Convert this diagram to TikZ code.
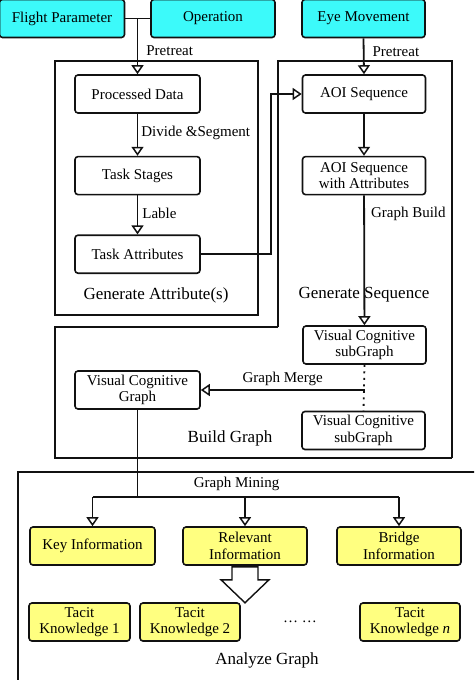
\documentclass[tikz,border=0pt]{standalone}
\usepackage{fontspec}
\setmainfont{Liberation Serif}
\usetikzlibrary{positioning,arrows.meta,calc}
\definecolor{srcfill}{HTML}{3CFAFA}
\definecolor{infofill}{HTML}{FFFF80}
\definecolor{ink}{HTML}{111111}

\begin{document}
\begin{tikzpicture}[x=1pt, y=-1pt,
  % every box shares one frame; only the fill and the width change
  box/.style     = {draw=ink, line width=1.6pt, rounded corners=3pt, align=center,
                    font=\rmfamily\fontsize{15}{16.5}\selectfont, inner sep=2pt, minimum height=38pt},
  src/.style     = {box, fill=srcfill, minimum width=124pt},
  stepbox/.style = {box, fill=white, minimum width=125pt},
  info/.style    = {box, fill=infofill, minimum width=124pt},
  tacit/.style   = {box, fill=infofill, minimum width=100pt},
  hop/.style     = {-{Triangle[open, length=9pt, width=12pt, line width=1.5pt]},
                    line width=1.8pt, draw=ink},
  link/.style    = {line width=1.8pt, draw=ink},
  tag/.style     = {font=\rmfamily\fontsize{15}{16.5}\selectfont, inner sep=1pt},
  stage/.style   = {draw=ink, line width=1.2pt},
  stagename/.style = {font=\rmfamily\fontsize{17}{19}\selectfont, inner sep=0pt},
]
\useasboundingbox (0,0) rectangle (474,680);
\clip (0,0) rectangle (474,680);

% ------------------------------------------------------------------ stages --
\draw[stage] (55,61) rectangle (258,315);
\node[stagename] (ganame) at (156,295) {Generate Attribute(s)};
\draw[stage] (278,327) -- (278,61) -- (452,61) -- (452,458);
\node[stagename] (gsname) at (364,295) {Generate Sequence};
\draw[stage] (278,327) -- (55,327) -- (55,458) -- (452,458);
\node[stagename] (bgname) at (230,438) {Build Graph};
\draw[stage] (18,472) rectangle (476,684);
\node[stagename] (agname) at (267,660) {Analyze Graph};

% ----------------------------------------------------------------- sources --
\node[src, minimum width=125pt] (fp) at (62,18.5) {Flight Parameter};
\node[src] (op) at (213,18.5) {Operation};
\node[src, minimum width=123pt] (eye) at (363.5,18.5) {Eye Movement};

% ------------------------------------------------------ generate attribute --
\node[stepbox] (pd) at (137.5,94) {Processed Data};
\node[stepbox, below=42pt of pd] (ts) {Task Stages};
\node[stepbox, below=39pt of ts] (ta) {Task Attributes};

% ------------------------------------------------------- generate sequence --
\node[stepbox, minimum width=123pt] (aoi) at (364,94) {AOI Sequence};
\node[stepbox, minimum width=123pt, below=42pt of aoi] (aoia) {AOI Sequence\\with Attributes};

% ------------------------------------------------------------- build graph --
\node[stepbox, minimum width=123pt] (sub1) at (364.5,345) {Visual Cognitive\\subGraph};
\node[stepbox, minimum width=123pt] (sub2) at (363.5,430.5) {Visual Cognitive\\subGraph};
\node[stepbox] (vcg) at (137.5,390) {Visual Cognitive\\Graph};

% ----------------------------------------------------------- analyze graph --
\node[info, minimum width=125pt] (key) at (92.5,546) {Key Information};
\node[info] (rel) at (245,546) {Relevant\\Information};
\node[info] (bri) at (399,546) {Bridge\\Information};
\node[tacit, minimum width=101pt] (tk1) at (79.5,622) {Tacit\\Knowledge 1};
\node[tacit] (tk2) at (190,622) {Tacit\\Knowledge 2};
\node[tag] (more) at (300,622) {\dots\ \dots};
\node[tacit] (tkn) at (410,622) {Tacit\\Knowledge \textit{n}};

% ------------------------------------------------------------------ arrows --
\draw[link] (fp.east) -- (op.west);
\draw[hop] (pd.north |- fp.east) -- node[tag, right=7pt, pos=.58] {Pretreat} (pd.north);
\draw[hop] (eye.south) -- node[tag, right=7pt, pos=.36] {Pretreat} (aoi.north);
\draw[hop] (pd) -- node[tag, right=2pt, pos=.45] {Divide \&Segment} (ts);
\draw[hop] (ts) -- node[tag, right=3pt, pos=.46] {Lable} (ta);
\draw[hop] (ta.east) -- ++(70,0) |- (aoi.west);
\draw[hop] (aoi) -- (aoia);
\draw[hop] (aoia) -- node[tag, right=5pt, pos=.14] {Graph Build} (sub1);
\draw[link, dash pattern=on 2pt off 4.5pt] (sub1.south) -- (sub2.north);
\coordinate (mg) at (sub1.south |- vcg.east);
\draw[hop] (mg) -- node[tag, above=2pt] {Graph Merge} (vcg.east);

\coordinate (split) at (vcg.south |- 0,497);
\draw[link] (vcg.south) -- (split);
\draw[link] (key.north |- split) -- node[tag, above=4pt, pos=.47] {Graph Mining} (bri.north |- split);
\draw[hop] (key.north |- split) -- (key.north);
\draw[hop] (rel.north |- split) -- (rel.north);
\draw[hop] (bri.north |- split) -- (bri.north);

% the broad hollow arrow under Relevant Information
\draw[line width=1.4pt, draw=ink, fill=white, line join=miter]
  ($(rel.south)+(-13,1)$) -- ++(0,13) -- ++(-11,0) -- ($(rel.south)+(0,37)$)
  -- ($(rel.south)+(24,14)$) -- ++(-11,0) -- ++(0,-13) -- cycle;

\end{tikzpicture}
\end{document}
